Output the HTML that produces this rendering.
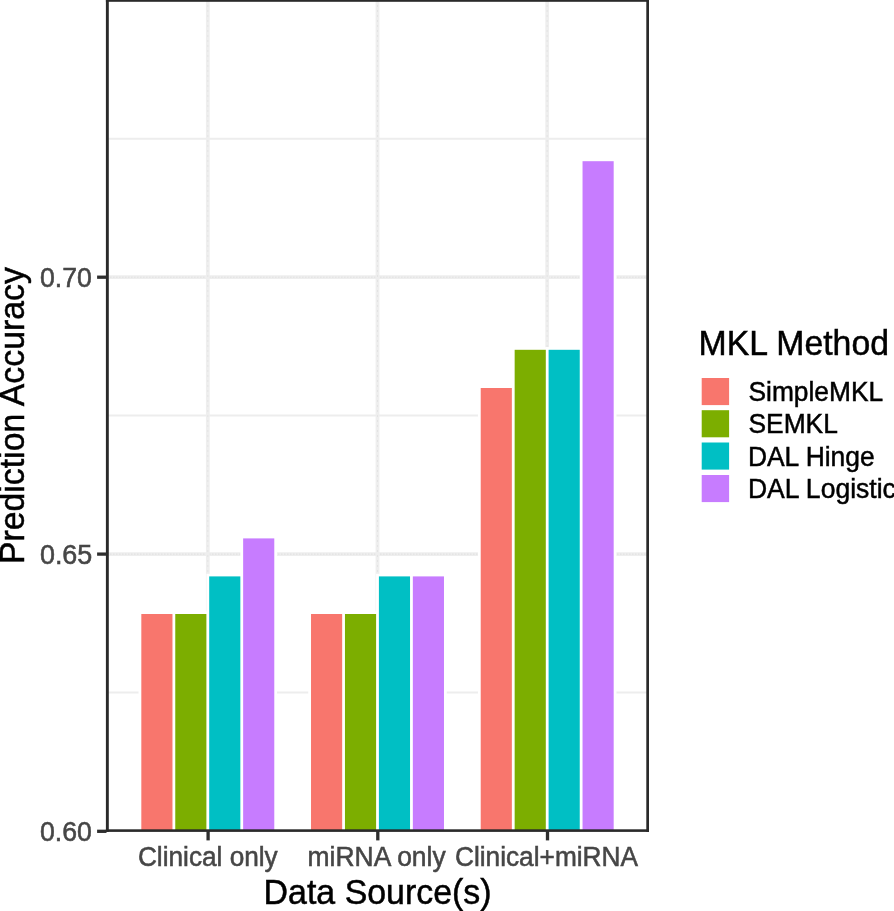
<!DOCTYPE html>
<html lang="en"><head><meta charset="utf-8"><title>Prediction Accuracy by Data Source</title>
<style>html,body{margin:0;padding:0;background:#fff;overflow:hidden;}svg{display:block;}</style></head>
<body><svg width="894" height="911" viewBox="0 0 894 911">
<rect x="0" y="0" width="894" height="911" fill="#fff"/>
<line x1="107.35" x2="647.65" y1="692.45" y2="692.45" stroke="#ededed" stroke-width="2"/>
<line x1="107.35" x2="647.65" y1="415.55" y2="415.55" stroke="#ededed" stroke-width="2"/>
<line x1="107.35" x2="647.65" y1="138.65" y2="138.65" stroke="#ededed" stroke-width="2"/>
<line x1="107.35" x2="647.65" y1="554.10" y2="554.10" stroke="#eeeeee" stroke-width="3.8"/>
<line x1="107.35" x2="647.65" y1="554.10" y2="554.10" stroke="#d9d9d9" stroke-width="1" stroke-dasharray="1 2"/>
<line x1="107.35" x2="647.65" y1="277.20" y2="277.20" stroke="#eeeeee" stroke-width="3.8"/>
<line x1="107.35" x2="647.65" y1="277.20" y2="277.20" stroke="#d9d9d9" stroke-width="1" stroke-dasharray="1 2"/>
<line x1="207.8" x2="207.8" y1="0.5" y2="830.6" stroke="#eeeeee" stroke-width="3.8"/>
<line x1="207.8" x2="207.8" y1="0.5" y2="830.6" stroke="#d9d9d9" stroke-width="1" stroke-dasharray="1 4"/>
<line x1="377.5" x2="377.5" y1="0.5" y2="830.6" stroke="#eeeeee" stroke-width="3.8"/>
<line x1="377.5" x2="377.5" y1="0.5" y2="830.6" stroke="#d9d9d9" stroke-width="1" stroke-dasharray="1 4"/>
<line x1="547.2" x2="547.2" y1="0.5" y2="830.6" stroke="#eeeeee" stroke-width="3.8"/>
<line x1="547.2" x2="547.2" y1="0.5" y2="830.6" stroke="#d9d9d9" stroke-width="1" stroke-dasharray="1 4"/>
<rect x="138.52" y="611.40" width="36.74" height="219.20" fill="#fff"/>
<rect x="172.46" y="611.40" width="36.74" height="219.20" fill="#fff"/>
<rect x="206.40" y="573.80" width="36.74" height="256.80" fill="#fff"/>
<rect x="240.34" y="535.80" width="36.74" height="294.80" fill="#fff"/>
<rect x="141.32" y="614.00" width="31.14" height="216.60" fill="#F8766D"/>
<rect x="175.26" y="614.00" width="31.14" height="216.60" fill="#7CAE00"/>
<rect x="209.20" y="576.40" width="31.14" height="254.20" fill="#00BFC4"/>
<rect x="243.14" y="538.40" width="31.14" height="292.20" fill="#C77CFF"/>
<rect x="308.22" y="611.40" width="36.74" height="219.20" fill="#fff"/>
<rect x="342.16" y="611.40" width="36.74" height="219.20" fill="#fff"/>
<rect x="376.10" y="573.80" width="36.74" height="256.80" fill="#fff"/>
<rect x="410.04" y="573.80" width="36.74" height="256.80" fill="#fff"/>
<rect x="311.02" y="614.00" width="31.14" height="216.60" fill="#F8766D"/>
<rect x="344.96" y="614.00" width="31.14" height="216.60" fill="#7CAE00"/>
<rect x="378.90" y="576.40" width="31.14" height="254.20" fill="#00BFC4"/>
<rect x="412.84" y="576.40" width="31.14" height="254.20" fill="#C77CFF"/>
<rect x="477.92" y="385.40" width="36.74" height="445.20" fill="#fff"/>
<rect x="511.86" y="347.20" width="36.74" height="483.40" fill="#fff"/>
<rect x="545.80" y="347.20" width="36.74" height="483.40" fill="#fff"/>
<rect x="579.74" y="158.60" width="36.74" height="672.00" fill="#fff"/>
<rect x="480.72" y="388.00" width="31.14" height="442.60" fill="#F8766D"/>
<rect x="514.66" y="349.80" width="31.14" height="480.80" fill="#7CAE00"/>
<rect x="548.60" y="349.80" width="31.14" height="480.80" fill="#00BFC4"/>
<rect x="582.54" y="161.20" width="31.14" height="669.40" fill="#C77CFF"/>
<rect x="105.9" y="-1" width="2.9" height="832.9" fill="#2a2a2a"/>
<rect x="646.3" y="-1" width="2.7" height="832.9" fill="#2a2a2a"/>
<rect x="105.9" y="-0.8" width="543.1" height="2.6" fill="#2a2a2a"/>
<rect x="105.9" y="829.3" width="543.1" height="2.6" fill="#2a2a2a"/>
<line x1="97.1" x2="106.5" y1="831.30" y2="831.30" stroke="#2e2e2e" stroke-width="3.3"/>
<line x1="97.1" x2="106.5" y1="554.10" y2="554.10" stroke="#2e2e2e" stroke-width="3.3"/>
<line x1="97.1" x2="106.5" y1="277.20" y2="277.20" stroke="#2e2e2e" stroke-width="3.3"/>
<line x1="208.10000000000002" x2="208.10000000000002" y1="830.6" y2="840.4" stroke="#2e2e2e" stroke-width="3.3"/>
<line x1="377.8" x2="377.8" y1="830.6" y2="840.4" stroke="#2e2e2e" stroke-width="3.3"/>
<line x1="547.5" x2="547.5" y1="830.6" y2="840.4" stroke="#2e2e2e" stroke-width="3.3"/>
<text transform="translate(39.93,287.00) scale(0.9725,1)" font-family="Liberation Sans, Arial, Helvetica, sans-serif" font-size="27.4" fill="#464646" stroke="#464646" stroke-width="0.55">0.70</text>
<text transform="translate(39.92,563.90) scale(0.9824,1)" font-family="Liberation Sans, Arial, Helvetica, sans-serif" font-size="27.4" fill="#464646" stroke="#464646" stroke-width="0.55">0.65</text>
<text transform="translate(39.93,840.80) scale(0.9725,1)" font-family="Liberation Sans, Arial, Helvetica, sans-serif" font-size="27.4" fill="#464646" stroke="#464646" stroke-width="0.55">0.60</text>
<text transform="translate(137.93,865.60) scale(0.9567,1)" font-family="Liberation Sans, Arial, Helvetica, sans-serif" font-size="27.4" fill="#464646" stroke="#464646" stroke-width="0.55">Clinical only</text>
<text transform="translate(307.62,865.60) scale(0.9642,1)" font-family="Liberation Sans, Arial, Helvetica, sans-serif" font-size="27.4" fill="#464646" stroke="#464646" stroke-width="0.55">miRNA only</text>
<text transform="translate(454.93,865.60) scale(0.9585,1)" font-family="Liberation Sans, Arial, Helvetica, sans-serif" font-size="27.4" fill="#464646" stroke="#464646" stroke-width="0.55">Clinical+miRNA</text>
<text transform="translate(263.58,904.00) scale(0.9691,1)" font-family="Liberation Sans, Arial, Helvetica, sans-serif" font-size="35" fill="#000" stroke="#000" stroke-width="0.5">Data Source(s)</text>
<text transform="translate(698.59,354.60) scale(0.9662,1)" font-family="Liberation Sans, Arial, Helvetica, sans-serif" font-size="35" fill="#000" stroke="#000" stroke-width="0.5">MKL Method</text>
<text transform="translate(748.47,400.50) scale(0.9411,1)" font-family="Liberation Sans, Arial, Helvetica, sans-serif" font-size="28.0" fill="#000" stroke="#000" stroke-width="0.5">SimpleMKL</text>
<text transform="translate(748.47,433.10) scale(0.9418,1)" font-family="Liberation Sans, Arial, Helvetica, sans-serif" font-size="28.0" fill="#000" stroke="#000" stroke-width="0.5">SEMKL</text>
<text transform="translate(747.88,465.70) scale(0.9445,1)" font-family="Liberation Sans, Arial, Helvetica, sans-serif" font-size="28.0" fill="#000" stroke="#000" stroke-width="0.5">DAL Hinge</text>
<text transform="translate(747.88,498.30) scale(0.9481,1)" font-family="Liberation Sans, Arial, Helvetica, sans-serif" font-size="28.0" fill="#000" stroke="#000" stroke-width="0.5">DAL Logistic</text>
<text transform="translate(24.30,564.12) rotate(-90) scale(0.9665,1)" font-family="Liberation Sans, Arial, Helvetica, sans-serif" font-size="35" fill="#000" stroke="#000" stroke-width="0.5">Prediction Accuracy</text>
 <rect x="701.7" y="378" width="27.4" height="27.1" fill="#F8766D"/>
 <rect x="701.7" y="410.2" width="27.4" height="27.1" fill="#7CAE00"/>
 <rect x="701.7" y="442.5" width="27.4" height="27.1" fill="#00BFC4"/>
 <rect x="701.7" y="475" width="27.4" height="27.1" fill="#C77CFF"/>
</svg></body></html>
